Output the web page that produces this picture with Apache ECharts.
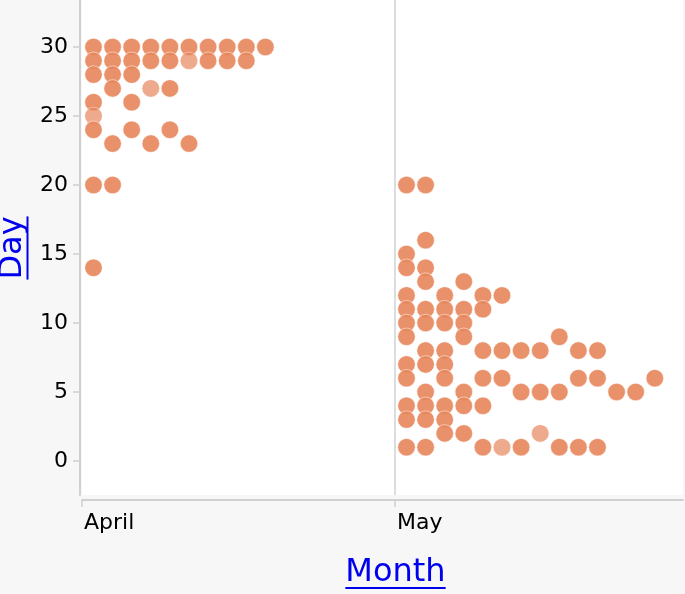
<!DOCTYPE html>
<html>
<head>
<meta charset="utf-8">
<script src="https://cdn.jsdelivr.net/npm/echarts@6/dist/echarts.min.js"></script>
<style>
  html, body { margin: 0; padding: 0; background: #f7f7f7; }
  #chart { width: 685px; height: 594px; }
</style>
</head>
<body>
<div id="chart"></div>
<script>
// ---- data ----
const months = ['April', 'May'];
const dayTicks = [0, 5, 10, 15, 20, 25, 30];
const xTitle = 'Month';
const yTitle = 'Day';
// each dot: [slot within month column, day, number of overlapping records]
const aprilDots = [
  [0,30,2],[1,30,2],[2,30,2],[3,30,2],[4,30,2],[5,30,2],[6,30,2],[7,30,2],[8,30,2],[9,30,2],
  [0,29,2],[1,29,2],[2,29,2],[3,29,2],[4,29,2],[5,29,1],[6,29,2],[7,29,2],[8,29,2],
  [0,28,2],[1,28,2],[2,28,2],
  [1,27,2],[3,27,1],[4,27,2],
  [0,26,2],[2,26,2],
  [0,25,1],
  [0,24,2],[2,24,2],[4,24,2],
  [1,23,2],[3,23,2],[5,23,2],
  [0,20,2],[1,20,2],
  [0,14,2]
];
const mayDots = [
  [0,20,2],[1,20,2],
  [1,16,2],
  [0,15,2],
  [0,14,2],[1,14,2],
  [1,13,2],[3,13,2],
  [0,12,2],[2,12,2],[4,12,2],[5,12,2],
  [0,11,2],[1,11,2],[2,11,2],[3,11,2],[4,11,2],
  [0,10,2],[1,10,2],[2,10,2],[3,10,2],
  [0,9,2],[3,9,2],[8,9,2],
  [1,8,2],[2,8,2],[4,8,2],[5,8,2],[6,8,2],[7,8,2],[9,8,2],[10,8,2],
  [0,7,2],[1,7,2],[2,7,2],
  [0,6,2],[2,6,2],[4,6,2],[5,6,2],[9,6,2],[10,6,2],[13,6,2],
  [1,5,2],[3,5,2],[6,5,2],[7,5,2],[8,5,2],[11,5,2],[12,5,2],
  [0,4,2],[1,4,2],[2,4,2],[3,4,2],[4,4,2],
  [0,3,2],[1,3,2],[2,3,2],
  [2,2,2],[3,2,2],[7,2,1],
  [0,1,2],[1,1,2],[4,1,2],[5,1,1],[6,1,2],[8,1,2],[9,1,2],[10,1,2]
];

// ---- layout constants ----
const MONTH_PX = 313;
const SLOT = 19.1 / MONTH_PX;
const FIRST = 11.5 / MONTH_PX;
const BASE_OPACITY = 0.7;
const FONT = '"DejaVu Sans", sans-serif';

const points = [];
[aprilDots, mayDots].forEach((dots, m) => {
  dots.forEach(([slot, day, count]) => {
    points.push({
      value: [m + FIRST + slot * SLOT, day],
      itemStyle: { opacity: 1 - Math.pow(1 - BASE_OPACITY, count) }
    });
  });
});

const ctx = document.createElement('canvas').getContext('2d');
const titleFont = '32px ' + FONT;
ctx.font = titleFont;
const wMonth = ctx.measureText(xTitle).width;
const wDay = ctx.measureText(yTitle).width;

const chart = echarts.init(document.getElementById('chart'), null, { renderer: 'canvas' });
const gridLeft = 82, gridRight = 2, gridTop = 0, gridBottom = 99;
const plotW = 685 - gridLeft - gridRight;

chart.setOption({
  backgroundColor: '#f7f7f7',
  animation: false,
  grid: {
    left: gridLeft, right: gridRight, top: gridTop, bottom: gridBottom,
    show: true, backgroundColor: '#ffffff', borderWidth: 0
  },
  xAxis: {
    type: 'value',
    min: 0,
    max: plotW / MONTH_PX,
    offset: 5,
    axisLine: { show: true, onZero: false, lineStyle: { color: '#d0d0d0', width: 2 } },
    axisTick: { show: true, length: 7, lineStyle: { color: '#d0d0d0', width: 1.5 }, customValues: [0, 1] },
    axisLabel: {
      customValues: [0, 1],
      formatter: v => months[Math.round(v)] || '',
      align: 'left',
      padding: [0, 0, 0, 2],
      margin: 12,
      color: '#000',
      fontSize: 22,
      fontFamily: FONT
    },
    splitLine: { show: false }
  },
  yAxis: {
    type: 'value',
    min: -34 / 13.8,
    max: 461 / 13.8,
    offset: 2,
    axisLine: { show: true, onZero: false, lineStyle: { color: '#d0d0d0', width: 2 } },
    axisTick: { show: true, length: 7, lineStyle: { color: '#d0d0d0', width: 1.5 }, customValues: dayTicks },
    axisLabel: {
      customValues: dayTicks,
      margin: 12,
      color: '#000',
      fontSize: 22,
      fontFamily: FONT
    },
    splitLine: { show: false }
  },
  series: [{
    type: 'scatter',
    symbol: 'circle',
    symbolSize: 17.5,
    itemStyle: {
      color: '#e7865b',
      borderColor: 'rgba(255,255,255,0.55)',
      borderWidth: 1
    },
    emphasis: { disabled: true },
    data: points,
    markLine: {
      silent: true,
      symbol: 'none',
      label: { show: false },
      lineStyle: { color: '#dddddd', width: 2, type: 'solid' },
      data: [{ xAxis: 1 }],
      z: 0
    }
  }],
  graphic: [
    {
      type: 'text', x: 395.5, y: 573, silent: true,
      style: { text: xTitle, font: titleFont, fill: '#0000ee', textAlign: 'center', textVerticalAlign: 'middle' }
    },
    {
      type: 'rect', silent: true,
      shape: { x: 395.5 - wMonth / 2, y: 587, width: wMonth, height: 2 },
      style: { fill: '#0000ee' }
    },
    {
      type: 'text', x: 12.5, y: 248, rotation: Math.PI / 2, silent: true,
      style: { text: yTitle, font: titleFont, fill: '#0000ee', textAlign: 'center', textVerticalAlign: 'middle' }
    },
    {
      type: 'rect', silent: true,
      shape: { x: 26.5, y: 248 - wDay / 2, width: 2, height: wDay },
      style: { fill: '#0000ee' }
    }
  ]
});
</script>
</body>
</html>
